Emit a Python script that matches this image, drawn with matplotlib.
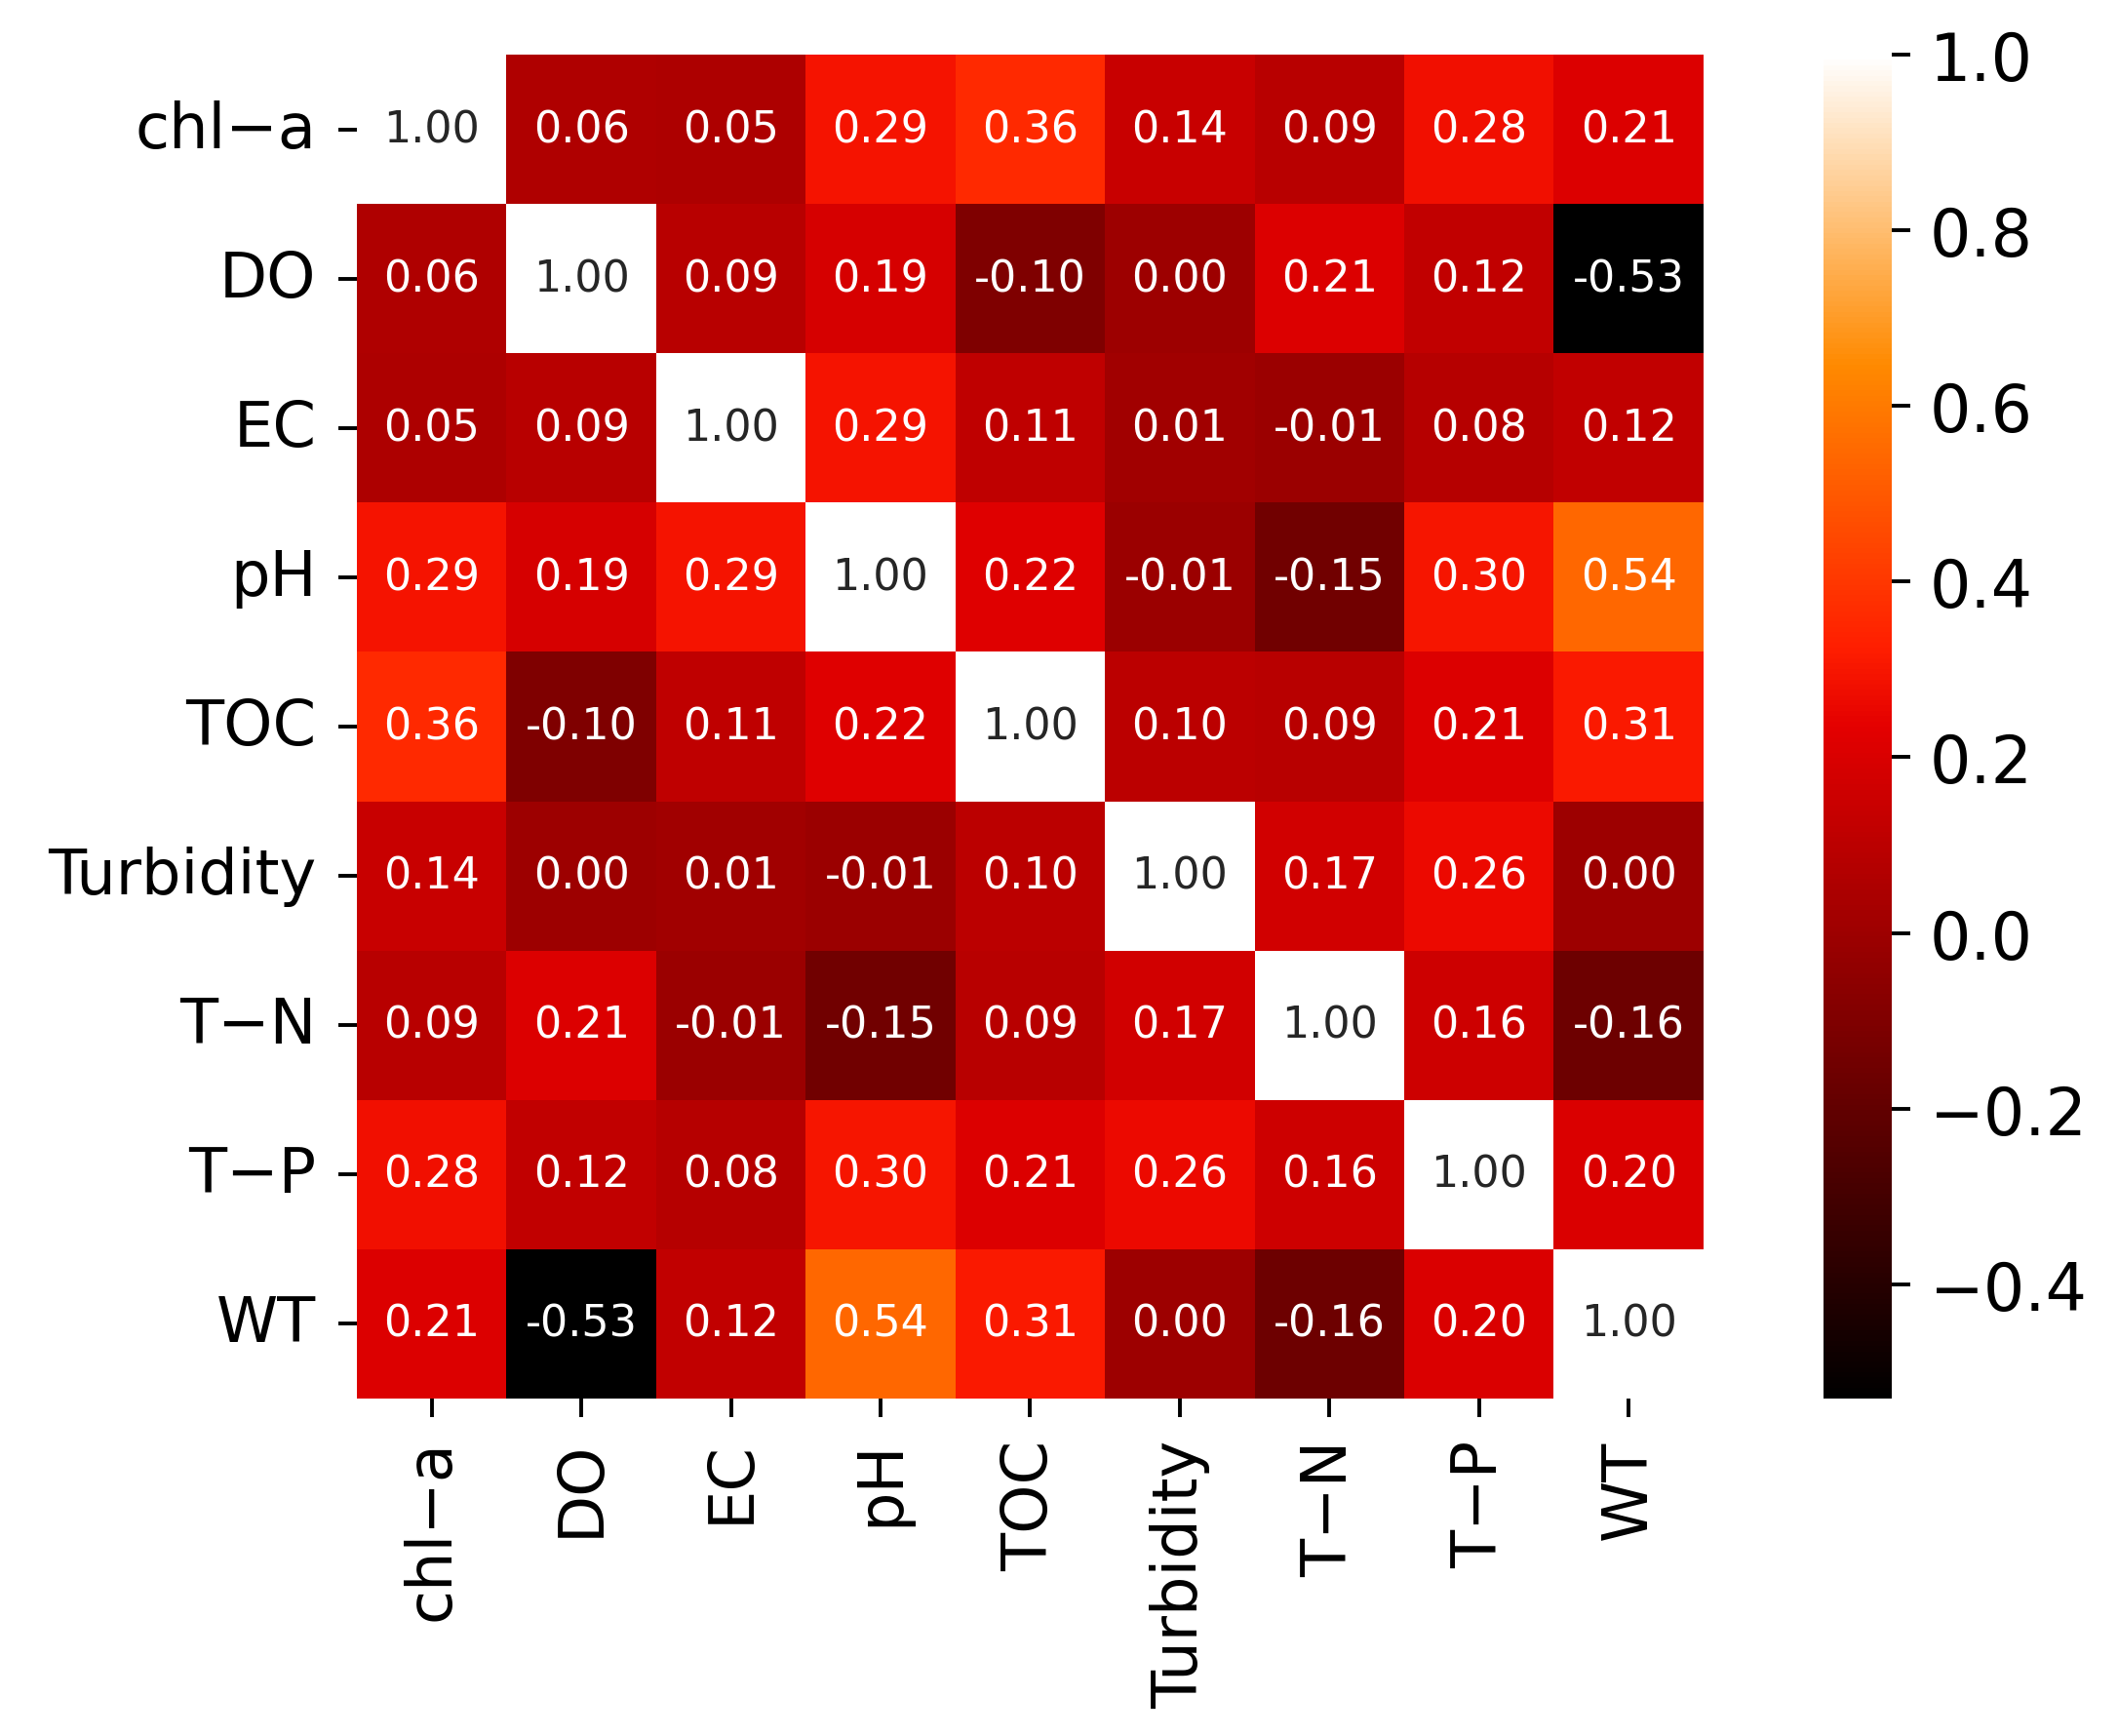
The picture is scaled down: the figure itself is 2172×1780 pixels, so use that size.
import numpy as np
import pandas as pd
import matplotlib
matplotlib.use("Agg")
import matplotlib.pyplot as plt
from matplotlib.colors import LinearSegmentedColormap
import seaborn as sns

# variables (labels use a real minus sign, as in the picture)
labels = ["chl\u2212a", "DO", "EC", "pH", "TOC", "Turbidity", "T\u2212N", "T\u2212P", "WT"]

# correlation matrix, row by row
chl_a     = [1.00, 0.06, 0.05, 0.29, 0.36, 0.14, 0.09, 0.28, 0.21]
do        = [0.06, 1.00, 0.09, 0.19, -0.10, 0.00, 0.21, 0.12, -0.53]
ec        = [0.05, 0.09, 1.00, 0.29, 0.11, 0.01, -0.01, 0.08, 0.12]
ph        = [0.29, 0.19, 0.29, 1.00, 0.22, -0.01, -0.15, 0.30, 0.54]
toc       = [0.36, -0.10, 0.11, 0.22, 1.00, 0.10, 0.09, 0.21, 0.31]
turbidity = [0.14, 0.00, 0.01, -0.01, 0.10, 1.00, 0.17, 0.26, 0.00]
t_n       = [0.09, 0.21, -0.01, -0.15, 0.09, 0.17, 1.00, 0.16, -0.16]
t_p       = [0.28, 0.12, 0.08, 0.30, 0.21, 0.26, 0.16, 1.00, 0.20]
wt        = [0.21, -0.53, 0.12, 0.54, 0.31, 0.00, -0.16, 0.20, 1.00]

corr = pd.DataFrame([chl_a, do, ec, ph, toc, turbidity, t_n, t_p, wt],
                    index=labels, columns=labels)

# gist_heat-like map, but the red ramps up faster (brighter reds as in the picture)
heat = LinearSegmentedColormap("heat_bright", {
    "red":   [(0.0, 0.0, 0.0), (0.56, 1.0, 1.0), (1.0, 1.0, 1.0)],
    "green": [(0.0, 0.0, 0.0), (0.5, 0.0, 0.0), (1.0, 1.0, 1.0)],
    "blue":  [(0.0, 0.0, 0.0), (0.77, 0.0, 0.0), (1.0, 1.0, 1.0)],
})

fig = plt.figure(figsize=(10.86, 8.905), dpi=200)
ax = fig.add_axes([0.1685, 0.1943, 0.6358, 0.7737])
cax = fig.add_axes([0.861, 0.1943, 0.0322, 0.7737])

sns.heatmap(corr, ax=ax, cbar_ax=cax, cmap=heat, annot=True, fmt=".2f",
            annot_kws={"size": 16})

ax.tick_params(axis="both", labelsize=23, length=7, width=1.4, pad=8)
ax.set_xticklabels(labels, rotation=90)
ax.set_yticklabels(labels, rotation=0)

cax.tick_params(labelsize=24, length=7, width=1.4, pad=7)
cax.set_yticks([-0.4, -0.2, 0.0, 0.2, 0.4, 0.6, 0.8, 1.0])

fig.savefig("out.png", dpi=200)
